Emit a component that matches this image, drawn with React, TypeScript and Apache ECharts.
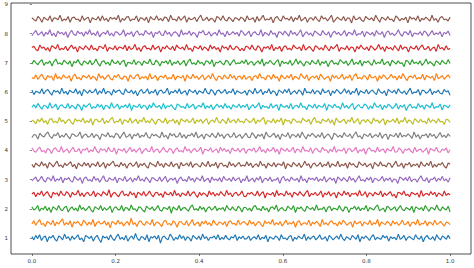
import React, { useEffect, useRef } from "react";
import * as echarts from "echarts";

const offsets = [1, 1.5, 2, 2.5, 3, 3.5, 4, 4.5, 5, 5.5, 6, 6.5, 7, 7.5, 8, 8.5];
const colors = ["#1f77b4", "#ff7f0e", "#2ca02c", "#d62728", "#9467bd", "#8c564b", "#e377c2", "#7f7f7f", "#bcbd22", "#17becf", "#1f77b4", "#ff7f0e", "#2ca02c", "#d62728", "#9467bd", "#8c564b"];
const xTicks = [0, 0.2, 0.4, 0.6, 0.8, 1.0];
const yTicks = [1, 2, 3, 4, 5, 6, 7, 8, 9];

// noise around each baseline, in hundredths; first half a*, second half b*
const a01 = [2,-3,4,-1,5,-4,1,3,-6,2,0,4,-2,-5,3,1,-3,6,-1,2,-4,3,-2,1,5,-3,0,-6,4,2,-1,3,-5,1,4,-2,-7,3,0,2,-3,5,-1,-4,2,6,-2,1,-3,4,-5,0,3,-2,7,-1,-4,2,1,-3,5,-6,2,0,3,-2,4,-8,1,3,-1,-3,6,2,-4,1,-2,5,-1,3,-4,2,0,-5,4,1,-2,3,-3,6,-1,2,-4,1,0,3,-2,5,-3,1,-2,4,-1,-3,2,0,5,-4,2,-1,3,-2];
const b01 = [-1,3,-4,0,2,-2,5,-3,1,-1,4,-6,2,0,-2,3,1,-4,5,-1,0,-3,2,4,-5,1,-2,3,0,-1,6,-4,2,-2,1,3,-3,0,5,-2,-1,2,-5,4,1,-3,0,3,-2,6,-1,-4,2,0,-3,4,1,-2,5,-6,2,-1,3,0,-4,2,5,-3,1,-1,-2,4,0,3,-5,2,-1,1,-3,6,-2,0,4,-4,1,2,-1,-3,5,0,-2,3,-6,1,4,-1,-2,2,-4,5,0,-3,3,1,-2,4,-1];
const a02 = [-1,4,-3,2,6,-2,0,-5,3,1,-2,5,-4,2,-1,3,7,-3,1,-2,4,-6,2,0,3,-1,-4,5,1,-3,2,-2,6,-5,1,3,-1,0,4,-3,2,-7,3,1,-2,5,-1,2,-4,0,3,-3,8,-2,1,-5,2,4,-1,-3,3,0,-2,6,-4,1,2,-1,-5,3,5,-2,0,-3,4,1,-6,2,3,-1,-2,4,-4,1,6,-3,0,2,-5,3,-1,4,-2,1,-4,5,0,-3,2,1,-2,3,-5,2,4,-1,0,-3,5,-2,1,3];
const b02 = [0,-3,5,-1,2,-4,1,3,-2,-5,4,0,2,-1,6,-3,1,-2,3,-4,0,5,-2,1,-1,3,-6,2,4,-3,0,1,-2,5,-4,2,-1,3,0,-5,6,-2,1,-3,2,4,-1,0,-4,3,-2,5,1,-3,0,2,-6,4,-1,1,3,-4,2,0,-2,5,-3,1,-1,6,-5,2,0,-2,3,1,-4,4,-1,2,-3,0,5,-2,-1,3,-5,1,2,-2,6,-3,0,-1,4,-4,2,1,-3,5,-2,0,3,-1,-4,2,1,-2];
const a03 = [3,-2,0,5,-4,1,-1,4,-3,2,-6,3,1,-2,5,-1,-3,2,4,-5,0,3,-2,1,-4,6,-1,2,-3,0,4,-2,-5,3,1,-1,5,-3,2,-2,0,4,-6,1,3,-1,-2,5,-4,2,1,-3,6,-1,0,-4,3,2,-2,-5,4,1,-1,3,-3,0,5,-2,-4,2,1,-1,4,-7,3,0,-2,5,-3,1,2,-1,-4,3,6,-2,0,-3,4,-1,2,-5,1,3,-2,0,4,-3,1,-1,2,-4,5,0,-2,3,-1,-3,4,1,-5,2];
const b03 = [2,-2,1,-4,3,5,-1,0,-3,4,-2,1,-5,2,3,-1,6,-4,0,2,-2,-3,4,1,-1,5,-6,2,0,3,-2,-4,4,1,-1,2,-3,6,-2,0,-1,3,-5,2,4,-3,1,0,-2,5,-1,-4,3,2,-6,1,0,4,-2,3,-3,1,-1,5,-4,2,0,-2,3,6,-3,-1,1,-5,4,2,-2,0,3,-4,1,5,-1,-3,2,0,-2,4,-6,3,1,-1,2,-3,5,0,-4,2,1,-2,6,-1,-3,3,0,-2,4,-5];
const a04 = [0,3,-4,2,-1,5,-3,1,4,-2,-6,3,0,2,-3,5,-1,-2,4,1,-5,3,-1,0,6,-3,2,-4,1,3,-2,-1,5,-4,2,0,-3,4,1,-2,7,-5,1,3,-1,-4,2,5,-2,0,-3,4,-1,2,-6,3,1,-2,4,-3,0,5,-1,-4,2,3,-2,1,-5,4,0,-1,3,-3,6,-2,1,-4,2,0,-2,5,-3,1,4,-1,-5,3,-2,2,0,-4,5,-1,3,-3,1,-2,4,0,-3,6,-1,2,-4,1,3,-2,0,5,-3];
const b04 = [-4,2,0,3,-1,-2,5,-3,1,4,-6,2,0,-1,3,-4,6,-2,1,0,-3,5,-1,2,-5,3,1,-2,4,0,-3,2,6,-4,1,-1,3,-2,0,5,-5,2,-1,4,-3,1,2,-6,3,0,-2,5,-1,3,-4,1,0,2,-3,6,-2,-1,4,-5,2,1,-3,3,0,-1,5,-4,2,-2,1,4,-3,0,-6,3,2,-1,5,-2,0,-4,3,1,-1,2,-5,6,-3,0,1,-2,4,-1,3,-4,2,0,-3,5,-2,1,-1];
const a05 = [-2,1,4,-3,0,5,-1,-4,3,2,-2,6,-3,1,-1,4,-5,2,0,3,-2,-4,5,1,-1,3,-6,2,4,-2,0,-3,5,-1,2,-4,1,6,-2,-3,3,0,-1,4,-5,2,1,-2,5,-3,0,3,-4,2,-1,6,-2,1,-3,4,0,-5,3,2,-1,-2,4,-3,1,5,-4,0,2,-1,3,-6,1,4,-2,0,-3,5,-1,2,-4,3,1,-2,6,-3,0,2,-5,4,-1,1,-2,3,-4,5,0,-1,2,-3,4,-2,1,3,-5];
const b05 = [1,-2,6,-3,0,2,-4,3,-1,5,-5,1,2,-2,4,-3,0,-1,3,-6,2,5,-2,1,-3,4,0,-1,2,-4,6,-2,1,-5,3,0,2,-1,4,-3,1,-2,5,-4,0,3,-1,2,-6,4,1,-2,3,0,-3,5,-1,2,-4,1,6,-2,0,-3,3,-1,4,-5,2,1,-2,0,5,-3,2,-1,3,-4,1,0,-6,4,2,-1,3,-2,5,-3,0,1,-4,2,6,-1,-2,3,-5,1,0,4,-3,2,-1,5,-2,1,-4,3];
const a06 = [1,-4,3,0,-2,5,-1,2,-5,4,1,-3,2,6,-2,0,-4,3,-1,2,5,-3,1,-6,3,0,-2,4,-1,3,-4,2,1,-2,5,-3,0,4,-5,2,-1,3,6,-2,0,-3,4,-1,2,-5,1,3,-2,0,5,-4,2,-1,3,-2,-5,4,1,0,-3,6,-1,2,-4,3,0,-2,5,-3,1,2,-6,4,-1,0,3,-2,5,-4,1,2,-1,-3,4,0,-2,6,-3,1,-1,4,-5,2,3,-2,0,-4,5,-1,2,-3,1,4,-2,0];
const b06 = [-2,5,-1,3,-4,0,2,-3,6,-1,1,-5,3,0,-2,4,-3,2,1,-1,5,-6,2,0,-3,4,1,-2,3,-4,0,6,-1,2,-5,1,3,-2,0,4,-3,1,-1,5,-4,2,0,-2,6,-3,1,-1,3,-5,4,0,2,-2,-4,5,1,-1,3,-3,0,2,-6,4,1,-2,5,-1,0,-3,3,2,-4,1,6,-2,-1,3,-5,2,0,4,-3,1,-1,2,-4,5,0,-2,3,-1,6,-4,1,-3,2,0,4,-2,-5,3,1];
const a07 = [4,-1,-3,2,5,-2,0,-4,3,1,-5,2,4,-1,-2,6,-3,0,2,-4,1,5,-2,-1,3,-5,2,0,4,-3,1,-2,6,-1,-4,3,0,2,-3,5,-1,-2,4,-6,2,1,-1,3,-4,0,5,-2,2,-3,1,4,-5,0,3,-1,-2,6,-3,1,2,-4,0,5,-1,-3,3,2,-5,1,4,-2,0,-3,6,-1,2,-4,1,3,-2,0,5,-6,2,1,-1,4,-3,0,2,-4,5,-1,3,-2,1,-5,4,0,-1,3,-3,2];
const b07 = [3,-5,1,2,-1,4,-3,0,6,-2,1,-4,3,-1,0,5,-3,2,-6,4,1,-1,3,-2,0,5,-4,2,1,-3,6,-1,0,-2,4,-5,2,3,-1,-3,5,0,1,-4,2,-2,6,-3,1,0,-1,4,-5,2,3,-2,0,5,-4,1,-1,3,-6,2,4,-1,0,-3,5,-2,1,2,-4,3,0,-1,6,-3,-2,4,1,-5,2,0,3,-1,-4,5,-2,1,2,-3,0,4,-6,3,1,-1,5,-2,-3,2,0,4,-4,1];
const a08 = [-3,2,1,-5,4,0,-2,3,6,-1,-4,2,0,5,-3,1,-2,4,-1,-5,3,2,-1,0,6,-4,1,3,-2,-1,4,-3,2,0,-6,3,1,-1,5,-2,0,-3,4,2,-4,1,6,-2,-1,3,-5,2,0,4,-3,1,-1,5,-2,-4,3,0,2,-1,-3,6,-2,1,-5,4,0,3,-2,-1,5,-3,2,-4,1,0,4,-2,6,-3,-1,2,-5,3,1,-2,4,0,-3,5,-1,2,-4,1,3,-2,-1,5,-3,0,2,-4];
const b08 = [0,4,-2,-3,5,1,-4,2,-1,3,-5,6,0,-2,1,4,-3,2,-6,3,0,-1,5,-4,2,1,-2,3,-3,6,0,-5,2,-1,4,1,-3,2,-2,5,-4,0,3,-1,-6,4,2,-2,1,-3,5,0,-1,3,-4,2,6,-2,0,-5,3,1,-1,4,-3,0,2,-2,5,-4,1,3,-6,2,0,-1,4,-3,5,-2,1,-1,3,0,-4,6,-2,2,-5,1,0,3,-3,4,-1,2,-4,0,5,-2,1,-3,3,-1];
const a09 = [2,0,-4,3,-1,5,-2,1,-5,3,4,-2,0,-3,6,-1,2,-4,1,3,-2,-5,4,0,2,-1,5,-3,1,-2,4,-6,2,3,-1,0,5,-4,1,-2,3,6,-3,0,-1,4,-5,2,1,-2,5,-3,0,3,-4,2,-1,6,-2,1,-3,4,0,-5,2,3,-1,-2,5,-4,1,0,3,-3,2,-6,4,1,-1,3,-2,0,5,-4,2,-1,3,-3,1,4,-5,0,2,-2,6,-1,-3,3,0,-4,5,-2,1,2,-3,4,-1,0];
const b09 = [-3,4,1,-2,0,5,-4,2,-1,3,6,-5,1,0,-2,4,-3,2,-1,5,-6,3,0,1,-4,4,2,-2,0,-3,5,1,-1,3,-5,2,6,-2,0,-4,3,1,-1,4,-3,2,-6,5,0,-2,1,3,-4,2,-1,6,-3,0,4,-5,1,2,-2,3,-1,-4,5,0,2,-3,1,4,-6,2,-1,0,3,-2,5,-4,1,-1,6,-3,2,0,-5,4,1,-2,3,-1,0,-4,5,-2,2,1,-3,4,-1,0,-5,3,2,-2];
const a10 = [-1,3,-2,5,0,-4,2,1,-3,6,-2,0,4,-5,1,3,-1,-2,5,-3,2,0,-4,4,1,-6,3,-1,2,5,-3,0,-2,4,-1,3,-5,2,1,-3,6,-2,0,4,-4,1,-1,3,-2,5,-6,2,0,-1,4,-3,2,1,-5,3,-2,6,0,-1,2,-4,5,-3,1,0,3,-2,-5,4,2,-1,0,-3,5,-2,1,4,-4,0,2,-1,6,-3,1,-2,3,-5,0,4,-1,2,-3,5,-2,1,-4,3,0,-1,4,-2];
const b10 = [2,-1,4,-5,0,3,-2,1,6,-4,2,-1,0,-3,5,-2,1,3,-6,4,0,-1,2,-3,5,-4,1,2,-2,6,-1,0,-5,3,1,-2,4,-3,2,0,-1,5,-6,3,1,-2,4,-1,0,-4,6,-2,2,-3,1,5,-5,0,3,-1,-2,4,2,-4,1,-3,6,0,-1,3,-5,2,-2,4,1,-3,0,5,-4,2,-1,3,-6,1,4,-2,0,-3,5,-1,2,-4,3,1,-2,6,-3,0,-1,4,-5,2,1,-2,3];
const a11 = [3,-4,1,0,-2,5,-3,2,4,-1,-5,3,0,2,-3,6,-2,1,-4,3,0,-1,5,-3,2,-6,4,1,-2,3,-1,0,5,-4,2,-2,6,-3,1,0,-5,4,-1,2,3,-2,-4,5,0,-1,3,-3,2,-6,1,4,-2,0,5,-3,1,-1,4,-5,2,3,-2,0,6,-4,1,-1,3,-2,5,-3,0,2,-5,4,1,-1,3,-4,2,0,-2,6,-1,-3,4,1,-5,2,3,-2,0,4,-3,1,-1,5,-4,2,0,-2];
const b11 = [-1,2,-5,3,1,-3,6,-2,0,4,-4,1,-1,5,-3,2,0,-6,3,1,-2,4,-1,5,-4,0,2,-3,3,1,-5,6,-1,0,-2,4,-3,2,1,-4,5,-1,0,3,-6,2,-2,4,1,-3,0,5,-2,3,-4,1,-1,6,-5,2,0,-2,4,-3,1,3,-1,-4,5,0,-2,2,-6,4,1,-1,3,-3,5,0,-2,2,-4,1,6,-3,0,-1,4,-5,3,2,-2,0,5,-4,1,-1,3,-2,-3,4,0,2,-5];
const a12 = [0,-2,4,-3,1,5,-1,-4,3,0,2,-5,6,-2,1,-3,4,0,-1,3,-6,2,5,-2,0,-4,3,1,-1,4,-3,2,0,-5,6,-1,2,-3,1,4,-2,-4,3,0,5,-1,-3,2,1,-6,4,0,-2,3,5,-3,1,-1,2,-4,6,-2,0,3,-5,1,2,-1,4,-3,0,-2,5,-4,2,1,-1,3,-6,4,0,-2,5,-1,2,-3,1,4,-4,0,3,-2,6,-1,-5,2,1,-3,4,0,-2,5,-1,3,-4,1,2,-3];
const b12 = [4,-3,0,2,-5,1,3,-2,6,-1,0,-4,3,2,-3,5,-1,1,-6,4,0,-2,3,-1,5,-4,2,0,-3,6,1,-2,4,-5,0,2,-1,3,-4,5,1,-3,0,2,-6,4,-1,3,-2,0,5,-3,1,-1,4,-5,2,6,-2,0,-3,3,1,-4,5,-1,0,2,-6,3,-2,4,1,-3,0,5,-1,2,-4,3,-2,6,0,-5,1,2,-1,4,-3,0,-2,5,-4,3,1,-1,2,-5,6,-2,0,3,-3,1,4,-1];
const a13 = [-2,4,0,-3,2,5,-4,1,-1,3,-5,2,6,-2,0,-3,4,1,-2,3,-6,2,0,5,-1,-4,3,1,-2,4,-3,0,6,-1,-5,2,3,-2,1,-4,5,0,-1,3,-3,2,4,-6,1,0,-2,5,-3,2,1,-4,3,0,-1,6,-2,-3,4,1,-5,2,0,3,-2,5,-4,1,-1,3,-3,0,4,-5,2,6,-2,0,-3,4,-1,1,-4,3,2,-2,5,-6,1,0,3,-1,-3,4,2,-4,1,5,-2,0,-1,3];
const b13 = [-1,5,-3,1,2,-4,0,3,-2,6,-5,1,-1,4,0,-3,2,5,-6,3,-1,1,-2,4,-4,0,6,-2,3,-1,-5,2,1,-3,4,0,-2,5,-4,2,-1,3,-6,1,4,-2,0,-3,5,2,-1,3,-4,0,6,-3,1,-2,4,-5,2,0,3,-1,-4,5,-2,1,-1,6,-3,0,2,-5,4,1,-2,3,-1,0,-6,4,2,-3,5,-1,1,-2,3,-4,0,6,-2,2,-1,-5,3,1,-3,4,0,-2,5,-1];
const a14 = [1,3,-2,-4,5,0,2,-3,1,-5,4,2,-1,6,-3,0,-2,3,-4,1,5,-1,2,-6,3,0,-2,4,1,-3,5,-2,0,-4,3,2,-1,6,-5,1,0,-2,4,-3,2,1,-1,5,-4,3,-2,0,6,-3,1,-5,2,4,-1,0,-3,5,-2,1,3,-6,2,-1,4,0,-2,3,-4,5,1,-1,2,-3,6,-2,0,-5,3,1,-1,4,-3,2,0,-4,5,-1,3,-2,1,-6,4,0,2,-3,5,-1,-2,3,1,-4];
const b14 = [0,-4,3,2,-2,5,-1,-3,4,1,-6,2,0,3,-2,6,-4,1,-1,3,-5,2,4,-2,0,-3,5,1,-1,2,-4,6,-3,0,3,-1,-5,4,2,-2,1,-3,5,0,-4,3,-1,2,6,-5,1,0,-2,4,-3,2,1,-6,3,-1,5,0,-2,2,-4,4,1,-3,0,6,-2,2,-5,3,-1,1,-3,4,0,-4,5,-2,2,1,-6,3,0,-1,4,-3,2,5,-2,-1,3,-4,0,2,-5,6,-1,1,-3,4,-2,0];
const a15 = [-3,1,5,-2,0,3,-4,2,-1,6,-3,1,-5,4,0,2,-2,3,-6,1,5,-1,-3,4,0,2,-4,3,-1,6,-2,1,-3,4,-5,0,2,-1,5,-3,1,-4,3,2,-2,0,6,-4,1,-1,3,-5,2,4,-2,0,-3,5,1,-1,3,-6,2,0,4,-2,-3,5,-1,2,-4,1,3,0,-5,6,-2,1,-1,4,-3,2,0,-6,3,1,5,-2,-1,3,-4,0,2,-3,6,-1,1,-5,4,-2,0,3,-1,2,-4,5];
const b15 = [2,-3,0,4,-5,1,3,-1,-2,6,-4,2,0,-3,5,-1,1,-6,3,2,-2,4,0,-4,5,-1,2,-3,1,6,-5,0,3,-2,1,-4,4,2,-1,-3,5,0,-2,3,-6,1,4,-1,2,-3,0,5,-4,2,1,-2,6,-3,0,-1,4,-5,3,1,-2,2,-4,5,0,-1,3,-6,2,4,-2,1,-3,0,6,-1,-4,3,2,-2,5,-5,1,0,-1,3,-3,4,2,-4,0,5,-2,1,-1,3,-5,2,0,4,-3];
const a16 = [2,-1,-3,4,1,-5,3,0,-2,5,-4,2,1,-1,6,-3,0,-2,4,-5,2,3,-1,0,-4,5,-2,1,3,-6,2,0,-1,4,-3,5,-2,1,-4,3,0,2,-1,6,-5,1,-2,3,4,-3,0,-1,5,-4,2,1,-2,3,-6,4,0,-1,5,-2,1,-3,3,2,-4,6,-1,0,-3,4,-2,1,5,-5,2,-1,0,3,-4,2,6,-2,-1,3,-3,1,0,-5,4,2,-2,5,-1,-3,3,0,-4,2,1];
const b16 = [-2,3,1,-4,5,-1,0,2,-5,4,-3,1,6,-2,0,-1,3,-6,2,4,-1,-3,5,0,1,-2,4,-4,2,-1,6,-3,0,3,-5,1,2,-2,4,-1,-4,5,0,2,-3,1,6,-5,-1,3,0,-2,4,-3,2,1,-6,5,-1,0,3,-2,-4,4,1,-1,2,-3,6,0,-5,3,1,-2,4,-1,0,-4,5,2,-3,1,-1,3,-6,4,0,2,-2,5,-4,1,-1,3,0,-3,6,-2,1,-5,2,4,-1,0,-3,3];

const noise = [
  [...a01, ...b01], [...a02, ...b02], [...a03, ...b03], [...a04, ...b04],
  [...a05, ...b05], [...a06, ...b06], [...a07, ...b07], [...a08, ...b08],
  [...a09, ...b09], [...a10, ...b10], [...a11, ...b11], [...a12, ...b12],
  [...a13, ...b13], [...a14, ...b14], [...a15, ...b15], [...a16, ...b16],
];

export default function App() {
  const ref = useRef<HTMLDivElement>(null);
  useEffect(() => {
    if (!ref.current) return;
    const chart = echarts.init(ref.current, null, { renderer: "svg" });
    const series = noise.map((arr, k) => ({
      type: "line",
      showSymbol: false,
      symbol: "none",
      data: arr.map((v, i) => [i / (arr.length - 1), offsets[k] + v / 100 * 2.2]),
      lineStyle: { color: colors[k], width: 1.15 },
      itemStyle: { color: colors[k] },
      z: 2,
    }));
    const font = { fontFamily: "DejaVu Sans", fontSize: 5.5, color: "#333" };
    chart.setOption({
      animation: false,
      grid: {
        left: 11, right: 3, top: 3, bottom: 14,
        show: true, borderColor: "#222", borderWidth: 0.8, backgroundColor: "#fff",
      },
      xAxis: {
        type: "value", min: -0.05, max: 1.05,
        axisLine: { show: false },
        splitLine: { show: false },
        axisTick: { show: true, length: 2, lineStyle: { color: "#222", width: 0.6 }, customValues: xTicks },
        axisLabel: { ...font, margin: 4, customValues: xTicks, formatter: (v: number) => v.toFixed(1) },
      },
      yAxis: {
        type: "value", min: 0.45, max: 9.05,
        axisLine: { show: false },
        splitLine: { show: false },
        axisTick: { show: true, length: 2, lineStyle: { color: "#222", width: 0.6 }, customValues: yTicks },
        axisLabel: { ...font, margin: 3, customValues: yTicks, formatter: (v: number) => String(v) },
      },
      series,
    });
    return () => chart.dispose();
  }, []);
  return <div ref={ref} style={{ position: "absolute", left: 0, top: 0, width: 474, height: 268 }} />;
}
